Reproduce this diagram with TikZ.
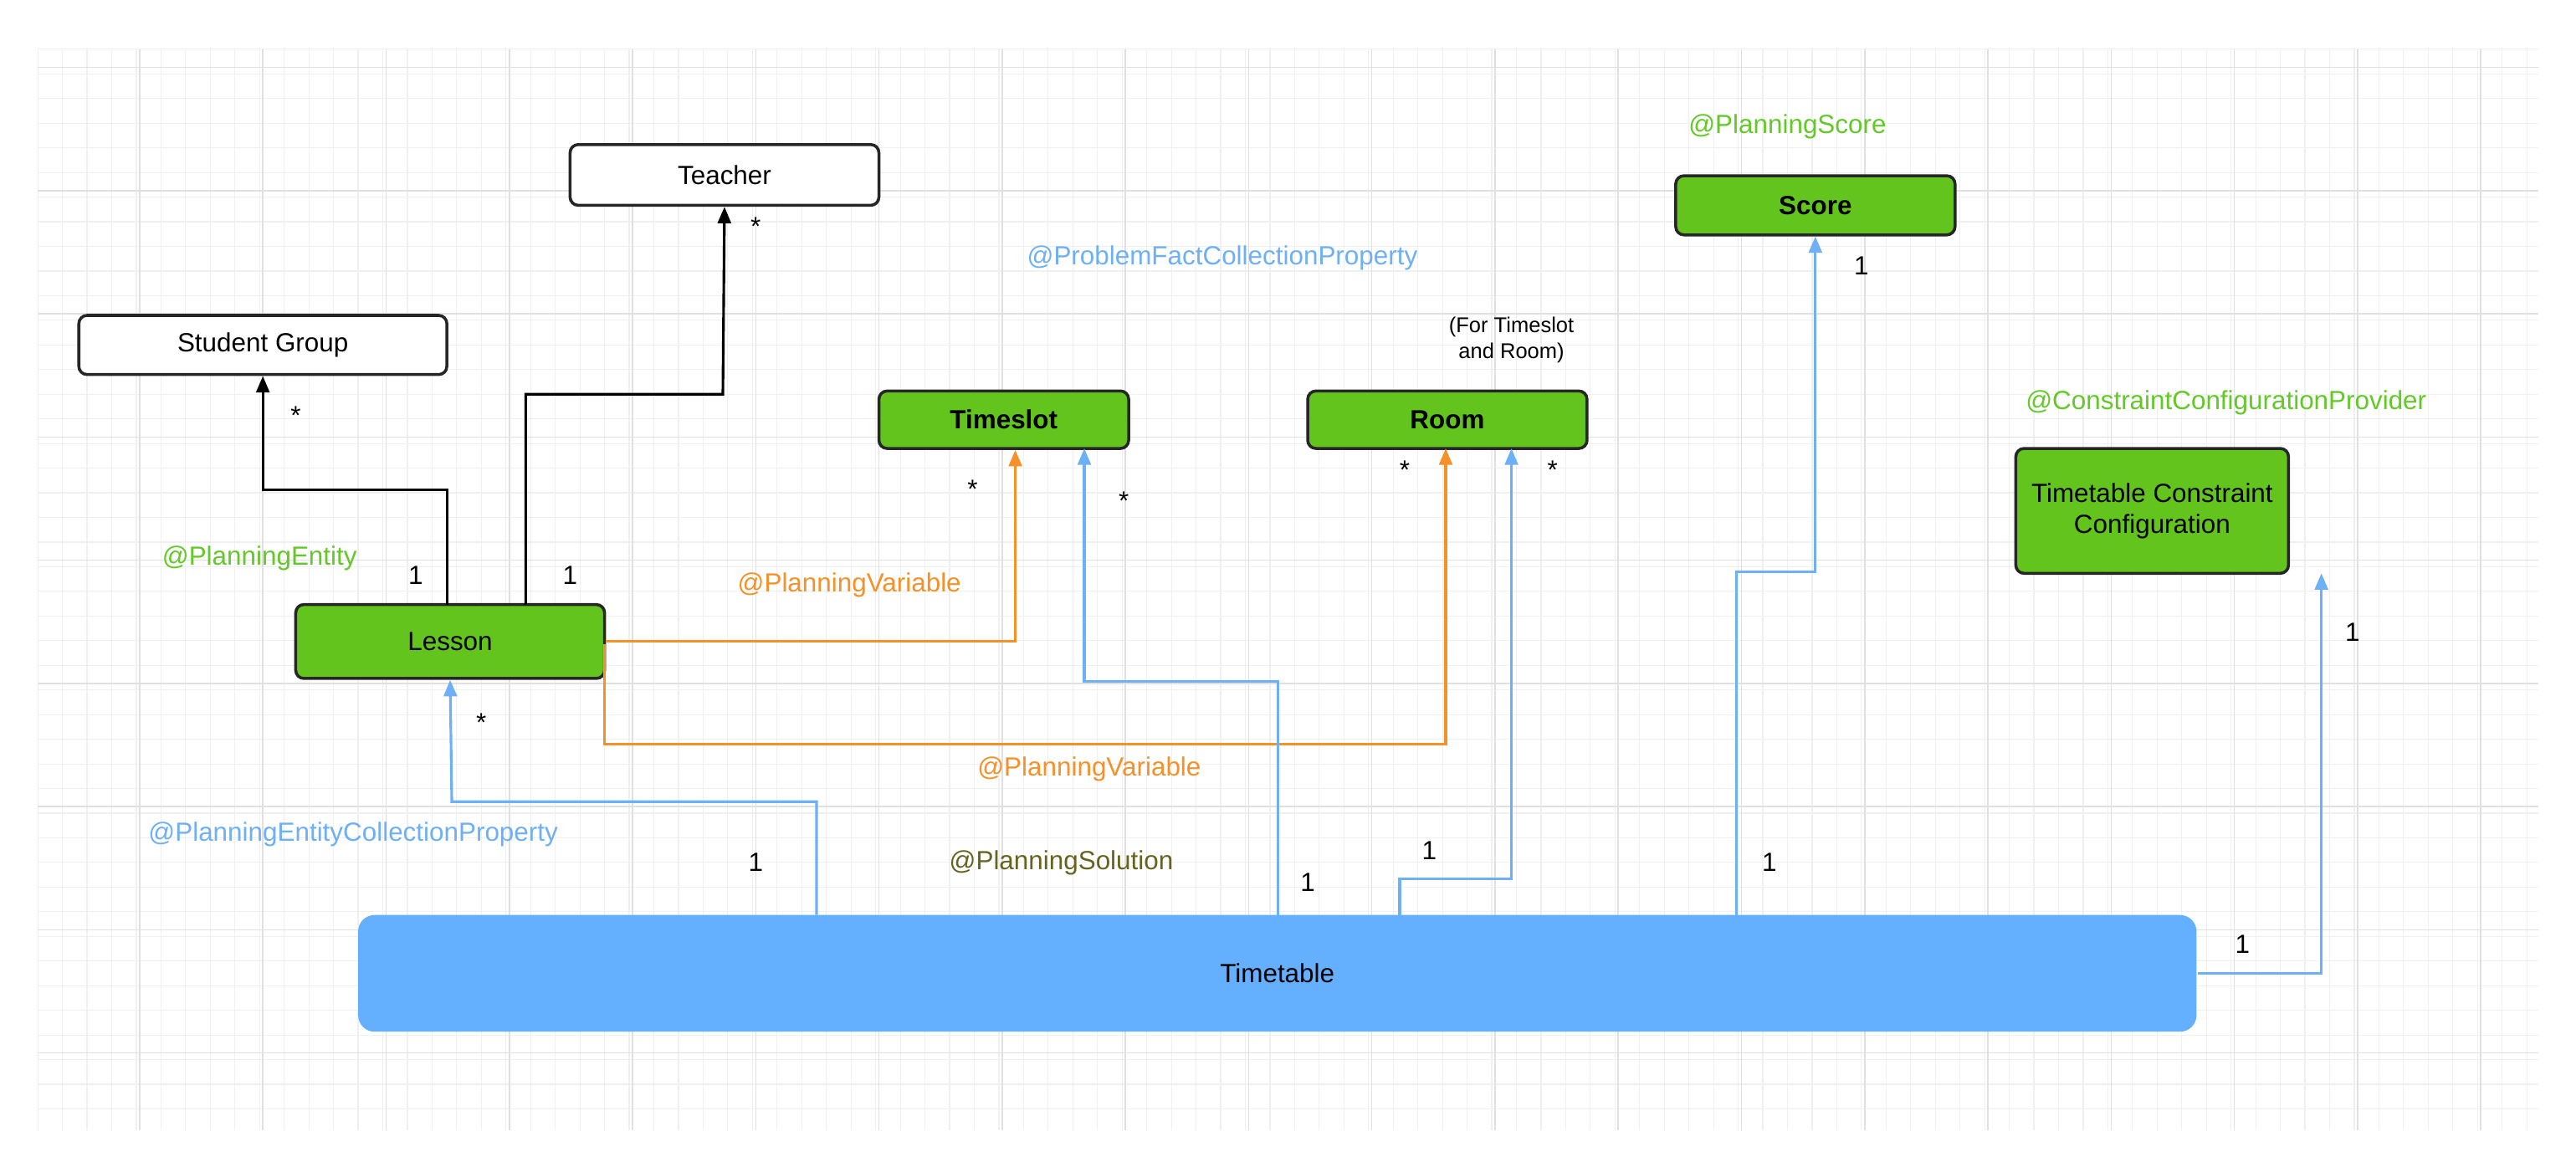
\documentclass[tikz,border=0pt]{standalone}
\usepackage{fontspec}
\setmainfont{Liberation Sans}
\usetikzlibrary{arrows.meta}
\definecolor{gfill}{RGB}{98,196,28}
\definecolor{bfill}{RGB}{100,176,255}
\definecolor{bline}{RGB}{110,176,245}
\definecolor{oline}{RGB}{245,145,40}
\definecolor{glab}{RGB}{100,200,40}
\definecolor{olab}{RGB}{100,100,30}
\begin{document}
\begin{tikzpicture}[x=0.5pt,y=-0.5pt,
 font=\fontsize{8}{9.5}\selectfont,
 box/.style={draw=black!85,line width=0.9pt,rounded corners=2.5pt,inner sep=0pt},
 wbox/.style={box,fill=white},
 gbox/.style={box,fill=gfill},
 blk/.style={draw=black,line width=0.8pt,-{Triangle[length=5pt,width=4pt]}},
 blu/.style={draw=bline,line width=0.8pt,-{Triangle[length=5pt,width=4pt]}},
 org/.style={draw=oline,line width=0.8pt,-{Triangle[length=5pt,width=4pt]}},
 lab/.style={inner sep=0pt}]
\useasboundingbox (0,0) rectangle (1568,704);
\fill[white] (0,0) rectangle (1568,704);
\foreach \x in {23,38,...,1545} \draw[black!6,line width=0.3pt] (\x,30) -- (\x,688);
\foreach \y in {30,45,...,688} \draw[black!6,line width=0.3pt] (23,\y) -- (1545,\y);
\foreach \x in {85,160,...,1545} \draw[black!12,line width=0.4pt] (\x,30) -- (\x,688);
\foreach \y in {41,116,...,688} \draw[black!12,line width=0.4pt] (23,\y) -- (1545,\y);

\node[wbox,minimum width=188pt*0.5,minimum height=37pt*0.5] (teacher) at (441,106.5) {Teacher};
\node[wbox,minimum width=224pt*0.5,minimum height=36pt*0.5] (sg) at (160,210) {Student Group};
\node[gbox,minimum width=152pt*0.5,minimum height=35pt*0.5] (ts) at (611,255.5) {\textbf{Timeslot}};
\node[gbox,minimum width=170pt*0.5,minimum height=35pt*0.5] (room) at (881,255.5) {\textbf{Room}};
\node[gbox,minimum width=170pt*0.5,minimum height=36pt*0.5] (score) at (1105,125) {\textbf{Score}};
\node[gbox,minimum width=166pt*0.5,minimum height=76pt*0.5,align=center] (cfg) at (1310,311) {Timetable Constraint\\Configuration};
\node[gbox,minimum width=188pt*0.5,minimum height=45pt*0.5] (lesson) at (274,390.5) {Lesson};
\node[box,draw=none,fill=bfill,rounded corners=5pt,minimum width=1119pt*0.5,minimum height=71pt*0.5] (tt) at (777.5,592.5) {Timetable};

\coordinate (a1) at (272,368); \draw[blk] (a1) |- (160,298) -- (sg.south);
\coordinate (a2) at (320,368); \draw[blk] (a2) |- (440,240) -- (teacher.south);
\draw[org] (lesson.east) -| (ts.south-|618,0);
\coordinate (o2) at (368,392);
\draw[org] (o2) |- (880,453) -- (880,273);
\coordinate (b1) at (497,557); \draw[blu] (b1) |- (275,488) -- (lesson.south);
\coordinate (b2) at (778,557); \draw[blu] (b2) |- (660,415) -- (660,273);
\coordinate (b3) at (852,557); \draw[blu] (b3) |- (920,535) -- (920,273);
\coordinate (b4) at (1057,557); \draw[blu] (b4) |- (1105,348) -- (score.south);
\draw[blu] (tt.east) -| (1413,349);

\node[lab] (l1) at (253,350) {1};
\node[lab] (l2) at (180,253) {*};
\node[lab] (l3) at (347,350) {1};
\node[lab] (l4) at (460,138) {*};
\node[lab] (l5) at (592,298) {*};
\node[lab] (l6) at (855,286) {*};
\node[lab] (l7) at (460,525) {1};
\node[lab] (l8) at (293,440) {*};
\node[lab] (l9) at (796,537) {1};
\node[lab] (l10) at (684,305) {*};
\node[lab] (l11) at (870,518) {1};
\node[lab] (l12) at (945,286) {*};
\node[lab] (l13) at (1077,525) {1};
\node[lab] (l14) at (1133,162) {1};
\node[lab] (l15) at (1365,575) {1};
\node[lab] (l16) at (1432,385) {1};

\node[lab,text=oline] (pv1) at (517,356) {@PlanningVariable};
\node[lab,text=oline] (pv2) at (663,468) {@PlanningVariable};
\node[lab,text=glab] (ps) at (1088,77) {@PlanningScore};
\node[lab,text=bline] (pfc) at (744,157) {@ProblemFactCollectionProperty};
\node[lab,align=center,font=\fontsize{6.5}{8}\selectfont] (ftr) at (920,207) {(For Timeslot\\and Room)};
\node[lab,text=glab] (ccp) at (1355,245) {@ConstraintConfigurationProvider};
\node[lab,text=glab] (pe) at (158,340) {@PlanningEntity};
\node[lab,text=bline] (pecp) at (215,508) {@PlanningEntityCollectionProperty};
\node[lab,text=olab] (psol) at (646,525) {@PlanningSolution};
\end{tikzpicture}
\end{document}
